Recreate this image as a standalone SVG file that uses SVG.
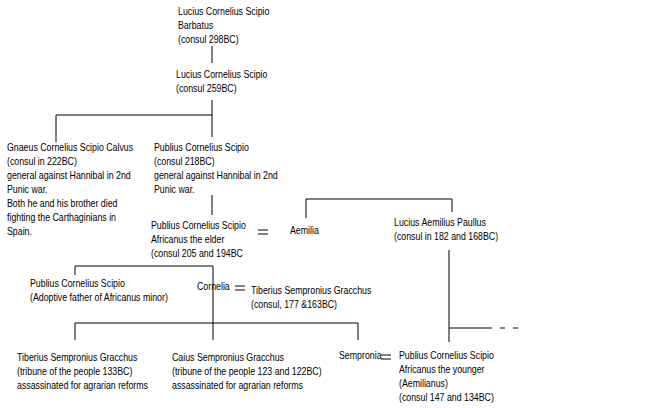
<svg xmlns="http://www.w3.org/2000/svg" width="651" height="408" viewBox="0 0 651 408">
<style>
text{font-family:"Liberation Sans",Arial,sans-serif;font-size:11px;fill:#000}
line{stroke:#000;stroke-width:1}
</style>
<rect width="651" height="408" fill="#fff"/>
<g id="connectors">
<line x1="212" y1="46" x2="212" y2="63"/>
<line x1="212" y1="100" x2="212" y2="137"/>
<line x1="56" y1="115" x2="212" y2="115"/>
<line x1="56" y1="115" x2="56" y2="142"/>
<line x1="212" y1="195" x2="212" y2="215"/>
<line x1="258" y1="230" x2="268" y2="230"/><line x1="258" y1="234" x2="268" y2="234"/>
<line x1="306" y1="199" x2="452" y2="199"/>
<line x1="306" y1="199" x2="306" y2="218"/>
<line x1="452" y1="199" x2="452" y2="212"/>
<line x1="449" y1="250" x2="449" y2="342"/>
<line x1="449" y1="328" x2="492" y2="328"/>
<line x1="500" y1="328" x2="505" y2="328"/><line x1="513" y1="328" x2="518" y2="328"/>
<line x1="213" y1="266" x2="213" y2="340"/>
<line x1="75" y1="266" x2="213" y2="266"/>
<line x1="75" y1="266" x2="75" y2="275"/>
<line x1="235" y1="286" x2="245" y2="286"/><line x1="235" y1="290" x2="245" y2="290"/>
<line x1="75" y1="323" x2="358" y2="323"/>
<line x1="75" y1="323" x2="75" y2="340"/>
<line x1="358" y1="323" x2="358" y2="340"/>
<line x1="381" y1="355" x2="391" y2="355"/><line x1="381" y1="359" x2="391" y2="359"/>
</g>
<g id="barbatus"><text transform="translate(178,15) scale(.8,1)"><tspan x="0">Lucius Cornelius Scipio</tspan><tspan x="0" dy="14">Barbatus</tspan><tspan x="0" dy="14">(consul 298BC)</tspan></text></g>
<g id="lucius259"><text transform="translate(176,78) scale(.8,1)"><tspan x="0">Lucius Cornelius Scipio</tspan><tspan x="0" dy="14">(consul 259BC)</tspan></text></g>
<g id="gnaeus"><text transform="translate(7,151) scale(.8,1)"><tspan x="0">Gnaeus Cornelius Scipio Calvus</tspan><tspan x="0" dy="14">(consul in 222BC)</tspan><tspan x="0" dy="14">general against Hannibal in 2nd</tspan><tspan x="0" dy="14">Punic war.</tspan><tspan x="0" dy="14">Both he and his brother died</tspan><tspan x="0" dy="14">fighting the Carthaginians in</tspan><tspan x="0" dy="14">Spain.</tspan></text></g>
<g id="publius218"><text transform="translate(154,151) scale(.8,1)"><tspan x="0">Publius Cornelius Scipio</tspan><tspan x="0" dy="14">(consul 218BC)</tspan><tspan x="0" dy="14">general against Hannibal in 2nd</tspan><tspan x="0" dy="14">Punic war.</tspan></text></g>
<g id="africanus"><text transform="translate(151,229) scale(.8,1)"><tspan x="0">Publius Cornelius Scipio</tspan><tspan x="0" dy="14">Africanus the elder</tspan><tspan x="0" dy="14">(consul 205 and 194BC</tspan></text></g>
<g id="aemilia"><text transform="translate(290,234) scale(.8,1)">Aemilia</text></g>
<g id="paullus"><text transform="translate(394,226) scale(.8,1)"><tspan x="0">Lucius Aemilius Paullus</tspan><tspan x="0" dy="14">(consul in 182 and 168BC)</tspan></text></g>
<g id="publiusadopt"><text transform="translate(30,287) scale(.8,1)"><tspan x="0">Publius Cornelius Scipio</tspan><tspan x="0" dy="14">(Adoptive father of Africanus minor)</tspan></text></g>
<g id="cornelia"><text transform="translate(197,290) scale(.8,1)">Cornelia</text></g>
<g id="tiberiusfather"><text transform="translate(251,294) scale(.8,1)"><tspan x="0">Tiberius Sempronius Gracchus</tspan><tspan x="0" dy="14">(consul, 177 &amp;163BC)</tspan></text></g>
<g id="tiberius"><text transform="translate(17,361) scale(.8,1)"><tspan x="0">Tiberius Sempronius Gracchus</tspan><tspan x="0" dy="14">(tribune of the people 133BC)</tspan><tspan x="0" dy="14">assassinated for agrarian reforms</tspan></text></g>
<g id="caius"><text transform="translate(172,361) scale(.8,1)"><tspan x="0">Caius Sempronius Gracchus</tspan><tspan x="0" dy="14">(tribune of the people 123 and 122BC)</tspan><tspan x="0" dy="14">assassinated for agrarian reforms</tspan></text></g>
<g id="sempronia"><text transform="translate(339,359) scale(.8,1)">Sempronia</text></g>
<g id="aemilianus"><text transform="translate(399,359) scale(.8,1)"><tspan x="0">Publius Cornelius Scipio</tspan><tspan x="0" dy="14">Africanus the younger</tspan><tspan x="0" dy="14">(Aemilianus)</tspan><tspan x="0" dy="14">(consul 147 and 134BC)</tspan></text></g>
</svg>
